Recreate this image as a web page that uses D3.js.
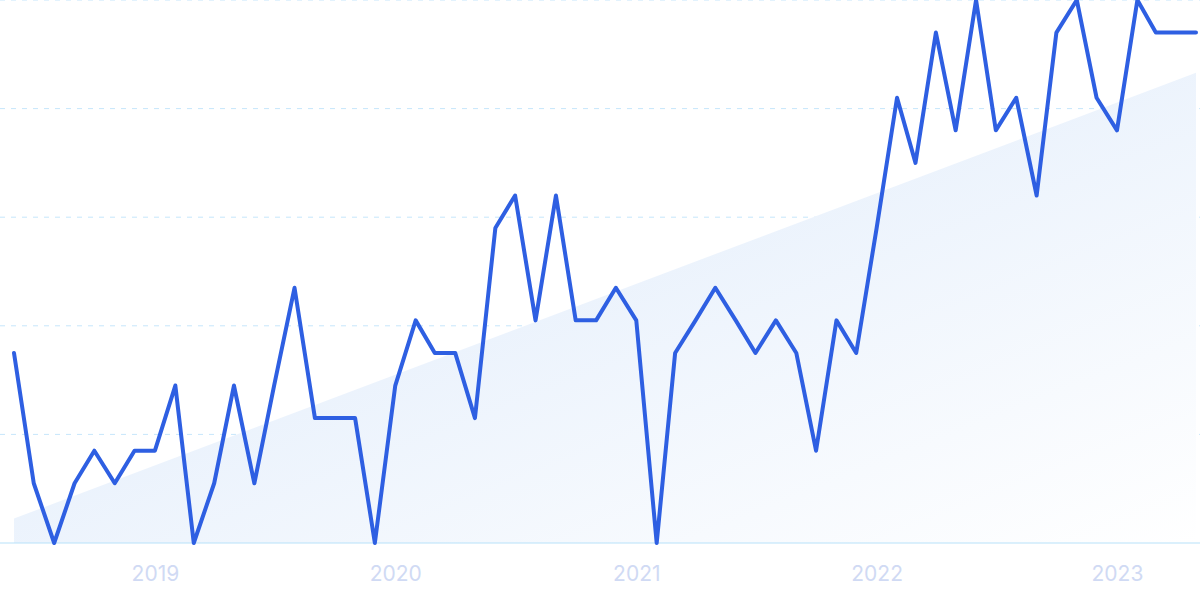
<!DOCTYPE html>
<html>
<head>
<meta charset="utf-8">
<script src="https://cdn.jsdelivr.net/npm/d3@7"></script>
<style>
  html, body { margin: 0; padding: 0; background: #fff; }
  svg { display: block; }
</style>
</head>
<body>
<svg width="1200" height="600"></svg>
<script>
// monthly interest, Jun 2018 .. May 2023
const startMonth = [2018, 5];
const values = [
    35, 11, 0, 11, 17, 11, 17, 17, 29, 0,
    11, 29, 11, 29, 47, 23, 23, 23, 0, 29,
    41, 35, 35, 23, 58, 64, 41, 64, 41, 41,
    47, 41, 0, 35, 41, 47, 41, 35, 41, 35,
    17, 41, 35, 58, 82, 70, 94, 76, 100, 76,
    82, 64, 94, 100, 82, 76, 100, 94, 94, 94
];
const trendValues = [4.5, 86.6];
const yearTicks = [2019, 2020, 2021, 2022, 2023];
const gridValues = [0, 20, 40, 60, 80, 100];

const dates = values.map((v, i) => new Date(startMonth[0], startMonth[1] + i, 1));
const data = values.map((v, i) => ({date: dates[i], value: v}));

var svg = d3.select("svg"),
    width = +svg.attr("width"),
    height = +svg.attr("height");

var x = d3.scaleTime()
    .domain(d3.extent(dates))
    .range([14, 1196]);

var y = d3.scaleLinear()
    .domain([0, 100])
    .range([543, 0]);

// gradient for the trend wedge
var defs = svg.append("defs");
var grad = defs.append("linearGradient")
    .attr("id", "trendFill")
    .attr("x1", "0%").attr("y1", "0%")
    .attr("x2", "100%").attr("y2", "100%");
grad.append("stop").attr("offset", "0%").attr("stop-color", "#dae8fa");
grad.append("stop").attr("offset", "100%").attr("stop-color", "#ffffff");

// grid
svg.append("g")
    .selectAll("line")
    .data(gridValues.filter(d => d > 0))
    .enter().append("line")
    .attr("x1", 0).attr("x2", width)
    .attr("y1", d => y(d)).attr("y2", d => y(d))
    .attr("stroke", "#c6e6fb")
    .attr("stroke-width", 1)
    .attr("stroke-dasharray", "5,6");

// trend area
var trend = [
    {date: dates[0], value: trendValues[0]},
    {date: dates[dates.length - 1], value: trendValues[1]}
];
svg.append("path")
    .datum(trend)
    .attr("d", d3.area().x(d => x(d.date)).y0(y(0)).y1(d => y(d.value)))
    .attr("fill", "url(#trendFill)");

// baseline
svg.append("line")
    .attr("x1", 0).attr("x2", width)
    .attr("y1", y(0)).attr("y2", y(0))
    .attr("stroke", "#b7e2fa")
    .attr("stroke-width", 1.2);

// main line
svg.append("path")
    .datum(data)
    .attr("d", d3.line().x(d => x(d.date)).y(d => y(d.value)))
    .attr("fill", "none")
    .attr("stroke", "#2e5fe2")
    .attr("stroke-width", 4)
    .attr("stroke-linejoin", "round")
    .attr("stroke-linecap", "round");

// x axis labels
var xAxis = d3.axisBottom(x)
    .tickValues(yearTicks.map(yr => new Date(yr, 0, 1)))
    .tickFormat(d3.timeFormat("%Y"))
    .tickSize(0)
    .tickPadding(23);

var ax = svg.append("g")
    .attr("transform", "translate(0," + y(0) + ")")
    .call(xAxis);
ax.select(".domain").remove();
ax.selectAll("text")
    .attr("fill", "#d0daf4")
    .style("font-family", "Inter, 'Noto Sans', sans-serif")
    .style("font-size", "21px");
</script>
</body>
</html>
